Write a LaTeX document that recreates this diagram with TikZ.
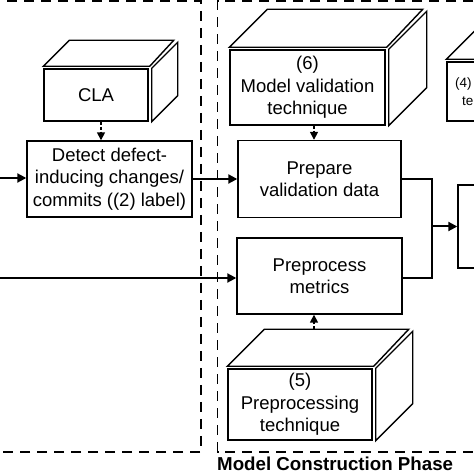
\documentclass[tikz,border=0pt]{standalone}
\usepackage{fontspec}
\setmainfont{Liberation Sans}
\usetikzlibrary{arrows.meta}
\newcommand\cubefaces[2]{%
  \draw[face] ([yshift=2pt]#1.north west) -- ++(#2,#2)
    -- ([shift={(#2pt-1pt,#2pt+2pt)}]#1.north east)
    -- ([shift={(1pt,2pt)}]#1.north east) -- cycle;
  \draw[face] ([xshift=3pt]#1.north east) -- ++(#2,#2)
    -- ([shift={(#2pt+3pt,#2pt)}]#1.south east)
    -- ([xshift=3pt]#1.south east) -- cycle;
}
\begin{document}
\begin{tikzpicture}[x=1pt,y=1pt,
  box/.style={draw, line width=1.4pt, inner sep=0pt, align=center,
    font=\fontsize{18.5}{22.5}\selectfont},
  face/.style={draw, line width=1.4pt, line join=miter},
  wire/.style={line width=2pt, line join=miter},
  conn/.style={line width=2pt, -{Triangle[length=9pt,width=9pt]}},
  dconn/.style={line width=1.6pt, dash pattern=on 3pt off 2pt, -{Triangle[length=8pt,width=8pt]}},
  phase/.style={line width=1.7pt, dash pattern=on 10pt off 7pt},
]
\useasboundingbox (0,0) rectangle (474,474);
\clip (0,0) rectangle (474,474);

% phase frames
\draw[phase] (-10,473) -- (201,473) -- (201,22) -- (-10,22);
\draw[phase] (490,473) -- (217.5,473) -- (217.5,22) -- (490,22);
\node[anchor=base west, inner sep=0pt, font=\bfseries\fontsize{18.7}{20}\selectfont] (phaselbl) at (217,4) {Model Construction Phase};

% cubes
\node[box, fill=white, minimum width=104pt, minimum height=52pt] (cla) at (96,379) {CLA};
\cubefaces{cla}{26}
\node[box, fill=white, minimum width=155pt, minimum height=75pt] (mv) at (307.5,386.5) {(6)\\Model validation\\technique};
\cubefaces{mv}{38}
\node[box, fill=white, minimum width=144pt, minimum height=71pt] (pt) at (300,69.5) {(5)\\Preprocessing\\technique};
\cubefaces{pt}{37}
\node[box, fill=white, minimum width=150pt, minimum height=59pt, inner xsep=8pt, text width=134pt, align=left,
  font=\fontsize{13.5}{18}\selectfont] (clf) at (522,382.5) {(4)\\\hspace*{7pt}te};
\cubefaces{clf}{30}

% process boxes
\node[box, minimum width=165pt, minimum height=76pt] (detect) at (109.5,295) {Detect defect-\\inducing changes/\\commits ((2) label)};
\node[box, minimum width=163pt, minimum height=77pt] (prep) at (319.5,295) {Prepare\\validation data};
\node[box, minimum width=165pt, minimum height=76pt] (preproc) at (319.5,198) {Preprocess\\metrics};
\node[box, minimum width=120pt, minimum height=83pt] (outbox) at (518,247.5) {};

% helper coordinates
\coordinate (inA) at (-5,296);
\coordinate (inB) at (-5,196);
\coordinate (jx) at (431.5,0);
\coordinate (dx) at (314,0);
\coordinate (cx) at (101,0);
\coordinate (pe) at ([yshift=-2pt]preproc.east);
\coordinate (ptb) at ([yshift=39pt]pt.north);

% connectors
\draw[conn] (inA) -- (inA -| detect.west);
\draw[conn] (detect.east) -- (prep.west);
\draw[conn] (inB) -- (inB -| preproc.west);
\draw[wire] (prep.east) -| (jx |- pe) -- (pe);
\draw[conn] (jx |- outbox.west) -- (outbox.west);

\draw[dconn] (cx |- cla.south) -- (cx |- detect.north);
\draw[dconn] (dx |- mv.south) -- (dx |- prep.north);
\draw[dconn] (dx |- ptb) -- (dx |- preproc.south);
\end{tikzpicture}
\end{document}
